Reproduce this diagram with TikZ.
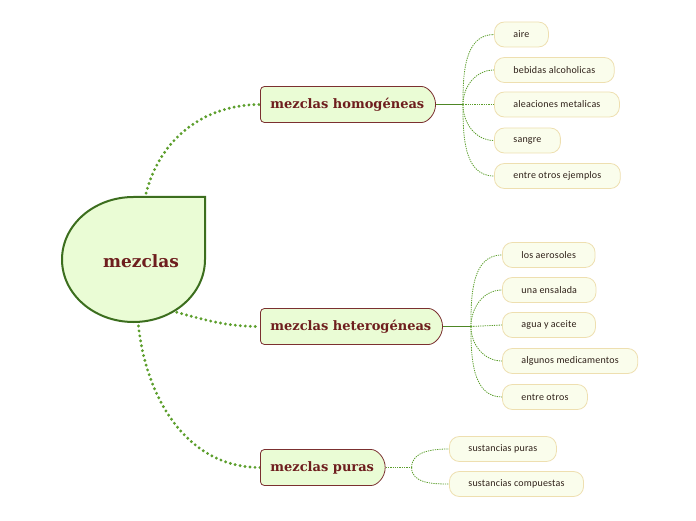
\documentclass[tikz,border=0pt]{standalone}
\usepackage{fontspec}
\newfontfamily\headfont{DejaVu Serif}
\newfontfamily\leaffont[LetterSpace=2]{Carlito}
\usetikzlibrary{shapes.misc, positioning, backgrounds}

\definecolor{dropfill}{HTML}{EAFCD5}
\definecolor{dropline}{HTML}{3C6E1E}
\definecolor{subline}{HTML}{7B3030}
\definecolor{wine}{HTML}{6E1E1E}
\definecolor{twig}{HTML}{5C9E2C}
\definecolor{leaffill}{HTML}{FAFDEC}
\definecolor{leafline}{HTML}{EEDFB0}
\definecolor{leaftext}{HTML}{2E2018}

\begin{document}
\begin{tikzpicture}[
        x=1pt, y=1pt,
        sub/.style={rounded rectangle, rounded rectangle west arc=none,
            rounded corners=4pt, draw=subline, fill=dropfill, line width=0.8pt,
            minimum height=36pt, inner xsep=10pt, anchor=west,
            font=\headfont\bfseries\fontsize{13}{15}\selectfont, text=wine},
        leaf/.style={draw=leafline, fill=leaffill, rounded corners=10pt,
            line width=0.8pt, minimum height=25pt, inner xsep=19pt, anchor=west,
            font=\leaffont\fontsize{10}{12}\selectfont, text=leaftext},
        bigdots/.style={draw=twig, line width=3.2pt, line cap=round,
            dash pattern=on 0pt off 5pt},
        twigdots/.style={draw=twig, line width=0.8pt, dash pattern=on 1.3pt off 1pt},
        stem/.style={draw=twig!85!black, line width=1.8pt}
    ]
    \useasboundingbox (0,0) rectangle (696,520);

    % central drop
    \draw[dropline, fill=dropfill, line width=2pt]
        (133.5,323) -- (205,323) -- (205,260.5)
        arc[start angle=0, end angle=-270, x radius=71.5, y radius=62.5] -- cycle;
    \node[font=\headfont\bfseries\fontsize{17}{20}\selectfont, text=wine] (m) at (141,259) {mezclas};
    \coordinate (mtop) at (145,322);
    \coordinate (mright) at (172,209);
    \coordinate (mbot) at (138,199);

    % the three kinds
    \node[sub] (h) at (260,415.5) {mezclas homogéneas};
    \node[sub] (t) at (260,193.5) {mezclas heterogéneas};
    \node[sub] (p) at (260,52.5) {mezclas puras};

    \coordinate[right=27pt of h] (jh);
    \coordinate[right=28pt of t] (jt);
    \coordinate[right=26pt of p] (jp);

    % leaves
    \node[leaf] (h1) at (494,485.5) {aire};
    \node[leaf] (h2) at (494,450) {bebidas alcoholicas};
    \node[leaf] (h3) at (494,415.5) {aleaciones metalicas};
    \node[leaf] (h4) at (494,379.5) {sangre};
    \node[leaf] (h5) at (494,344) {entre otros ejemplos};

    \node[leaf] (t1) at (502,265) {los aerosoles};
    \node[leaf] (t2) at (502,230) {una ensalada};
    \node[leaf] (t3) at (502,195) {agua y aceite};
    \node[leaf] (t4) at (502,159) {algunos medicamentos};
    \node[leaf] (t5) at (502,123) {entre otros};

    \node[leaf] (p1) at (449,71) {sustancias puras};
    \node[leaf] (p2) at (449,36) {sustancias compuestas};

    \begin{scope}[on background layer]
        \draw[bigdots] (mtop) to[out=78, in=180] (h.west);
        \draw[bigdots] (mright) to[out=-15, in=180] (t.west);
        \draw[bigdots] (mbot) to[out=-85, in=180] (p.west);

        \draw[stem] (h.east) -- (jh);
        \draw[stem] (t.east) -- (jt);
        \draw[twigdots] (p.east) -- (jp);

        \foreach \n in {h1,h2} \draw[twigdots] (jh) to[out=90, in=180] (\n.west);
        \draw[twigdots] (jh) -- (h3.west);
        \foreach \n in {h4,h5} \draw[twigdots] (jh) to[out=-90, in=180] (\n.west);

        \foreach \n in {t1,t2} \draw[twigdots] (jt) to[out=90, in=180] (\n.west);
        \draw[twigdots] (jt) -- (t3.west);
        \foreach \n in {t4,t5} \draw[twigdots] (jt) to[out=-90, in=180] (\n.west);

        \draw[twigdots] (jp) to[out=90, in=180] (p1.west);
        \draw[twigdots] (jp) to[out=-90, in=180] (p2.west);
    \end{scope}
\end{tikzpicture}
\end{document}
